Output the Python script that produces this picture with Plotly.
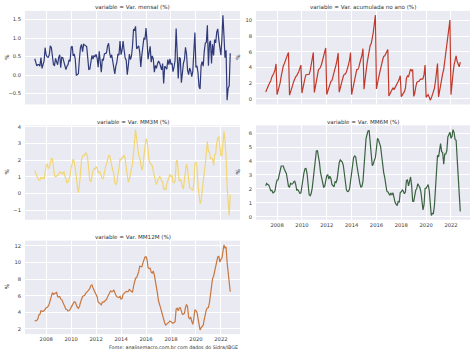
import numpy as np
import pandas as pd
import plotly.graph_objects as go

# IPCA monthly variation (%), Jan 2006 - Oct 2022
ipca_2006 = [0.59, 0.41, 0.43, 0.21, 0.10, -0.21, 0.19, 0.05, 0.21, 0.33, 0.31, 0.48]
ipca_2007 = [0.44, 0.44, 0.37, 0.25, 0.28, 0.28, 0.24, 0.47, 0.18, 0.30, 0.38, 0.74]
ipca_2008 = [0.54, 0.49, 0.48, 0.55, 0.79, 0.74, 0.53, 0.28, 0.26, 0.45, 0.36, 0.28]
ipca_2009 = [0.48, 0.55, 0.20, 0.48, 0.47, 0.36, 0.24, 0.15, 0.24, 0.28, 0.41, 0.37]
ipca_2010 = [0.75, 0.78, 0.52, 0.57, 0.43, 0.00, 0.01, 0.04, 0.45, 0.75, 0.83, 0.63]
ipca_2011 = [0.83, 0.80, 0.79, 0.77, 0.47, 0.15, 0.16, 0.37, 0.53, 0.43, 0.52, 0.50]
ipca_2012 = [0.56, 0.45, 0.21, 0.64, 0.36, 0.08, 0.43, 0.41, 0.57, 0.59, 0.60, 0.79]
ipca_2013 = [0.86, 0.60, 0.47, 0.55, 0.37, 0.26, 0.03, 0.24, 0.35, 0.57, 0.54, 0.92]
ipca_2014 = [0.55, 0.69, 0.92, 0.67, 0.46, 0.40, 0.01, 0.25, 0.57, 0.42, 0.51, 0.78]
ipca_2015 = [1.24, 1.22, 1.32, 0.71, 0.74, 0.79, 0.62, 0.22, 0.54, 0.82, 1.01, 0.96]
ipca_2016 = [1.27, 0.90, 0.43, 0.61, 0.78, 0.35, 0.52, 0.44, 0.08, 0.26, 0.18, 0.30]
ipca_2017 = [0.38, 0.33, 0.25, 0.14, 0.31, -0.23, 0.24, 0.19, 0.16, 0.42, 0.28, 0.44]
ipca_2018 = [0.29, 0.32, 0.09, 0.22, 0.40, 1.26, 0.33, -0.09, 0.48, 0.45, -0.21, 0.15]
ipca_2019 = [0.32, 0.43, 0.75, 0.57, 0.13, 0.01, 0.19, 0.11, -0.04, 0.10, 0.51, 1.15]
ipca_2020 = [0.21, 0.25, 0.07, -0.31, -0.38, 0.26, 0.36, 0.24, 0.64, 0.86, 0.89, 1.35]
ipca_2021 = [0.25, 0.86, 0.93, 0.31, 0.83, 0.53, 0.96, 0.87, 1.16, 1.25, 0.95, 0.73]
ipca_2022 = [0.54, 1.01, 1.62, 1.06, 0.47, 0.67, -0.68, -0.36, -0.29, 0.59]

monthly = (ipca_2006 + ipca_2007 + ipca_2008 + ipca_2009 + ipca_2010 + ipca_2011
           + ipca_2012 + ipca_2013 + ipca_2014 + ipca_2015 + ipca_2016 + ipca_2017
           + ipca_2018 + ipca_2019 + ipca_2020 + ipca_2021 + ipca_2022)
start_month = "2006-01-01"
plot_start = "2007-02-01"

panel_titles = ["variable = Var. mensal (%)",
                "variable = Var. acumulada no ano (%)",
                "variable = Var. MM3M (%)",
                "variable = Var. MM6M (%)",
                "variable = Var. MM12M (%)"]
panel_colors = ["#2F3A78", "#C0392B", "#F2D675", "#3A6240", "#C8763E"]
x_tick_years = [2008, 2010, 2012, 2014, 2016, 2018, 2020, 2022]
y_ticks = [[-0.5, 0.0, 0.5, 1.0, 1.5],
           [0, 2, 4, 6, 8, 10],
           [-1, 0, 1, 2, 3, 4],
           [0, 1, 2, 3, 4, 5, 6],
           [2, 4, 6, 8, 10, 12]]
source_text = "Fonte: analisemacro.com.br com dados do Sidra/IBGE"

# ---- series derived from the monthly IPCA ----
idx = pd.date_range(start_month, periods=len(monthly), freq="MS")
s = pd.Series(monthly, index=idx)
f = 1 + s / 100
acum = (f.groupby(idx.year).cumprod() - 1) * 100
mm3 = (f.rolling(3).apply(np.prod, raw=True) - 1) * 100
mm6 = (f.rolling(6).apply(np.prod, raw=True) - 1) * 100
mm12 = (f.rolling(12).apply(np.prod, raw=True) - 1) * 100
series = [s, acum, mm3, mm6, mm12]
series = [x[x.index >= plot_start] for x in series]

W, H = 474, 353
# pixel boxes: (left, right, top, bottom)
col_x = [(25, 240), (256, 470)]
row_y = [(9, 103), (124, 219), (240, 334)]
boxes = [(col_x[0], row_y[0]), (col_x[1], row_y[0]),
         (col_x[0], row_y[1]), (col_x[1], row_y[1]),
         (col_x[0], row_y[2])]

t0 = series[0].index[0]
t1 = series[0].index[-1]
span = t1 - t0
xr = [t0 - span * 0.05, t1 + span * 0.05]

fig = go.Figure()
layout = dict(width=W, height=H, margin=dict(l=0, r=0, t=0, b=0),
              paper_bgcolor="white", plot_bgcolor="#EAEAF2",
              showlegend=False, font=dict(family="DejaVu Sans", color="#333333", size=5))
annotations = []
tick_font = dict(family="DejaVu Sans", size=5.2, color="#3a3a3a")
for i, (ser, (cx, ry)) in enumerate(zip(series, boxes)):
    n = "" if i == 0 else str(i + 1)
    fig.add_trace(go.Scatter(x=ser.index, y=ser.values, mode="lines",
                             line=dict(color=panel_colors[i], width=1.2),
                             xaxis="x" + n, yaxis="y" + n, hoverinfo="skip"))
    xd = [cx[0] / W, cx[1] / W]
    yd = [1 - ry[1] / H, 1 - ry[0] / H]
    vmin, vmax = float(ser.min()), float(ser.max())
    pad = (vmax - vmin) * 0.05
    show_x = i in (3, 4)
    layout["xaxis" + n] = dict(domain=xd, anchor="y" + n, type="date", range=xr,
                               tickvals=[pd.Timestamp(f"{y}-01-01") for y in x_tick_years],
                               ticktext=[str(y) for y in x_tick_years],
                               showticklabels=show_x, ticks="",
                               showgrid=True, gridcolor="white", gridwidth=0.9,
                               zeroline=False, showline=False, tickfont=tick_font,
                               ticklabelstandoff=1)
    layout["yaxis" + n] = dict(domain=yd, anchor="x" + n, range=[vmin - pad, vmax + pad],
                               tickvals=y_ticks[i],
                               tickformat=".1f" if i == 0 else "d",
                               ticks="", showgrid=True, gridcolor="white", gridwidth=0.9,
                               zeroline=False, showline=False, tickfont=tick_font,
                               ticklabelstandoff=3)
    annotations.append(dict(text=panel_titles[i], x=(xd[0] + xd[1]) / 2,
                            y=1 - (ry[0] - 3.5) / H, xref="paper", yref="paper",
                            showarrow=False, xanchor="center", yanchor="middle",
                            font=dict(family="DejaVu Sans", size=5.6, color="#333333")))
    annotations.append(dict(text="%", x=(cx[0] - 18) / W, y=(yd[0] + yd[1]) / 2,
                            xref="paper", yref="paper", showarrow=False, textangle=-90,
                            xanchor="center", yanchor="middle",
                            font=dict(family="DejaVu Sans", size=5.6, color="#333333")))

annotations.append(dict(text=source_text, x=240 / W, y=1 - 347 / H, xref="paper", yref="paper",
                        showarrow=False, xanchor="right", yanchor="middle",
                        font=dict(family="DejaVu Sans", size=4.8, color="#333333")))
layout["annotations"] = annotations
fig.update_layout(**layout)
fig.write_html("out.html")
